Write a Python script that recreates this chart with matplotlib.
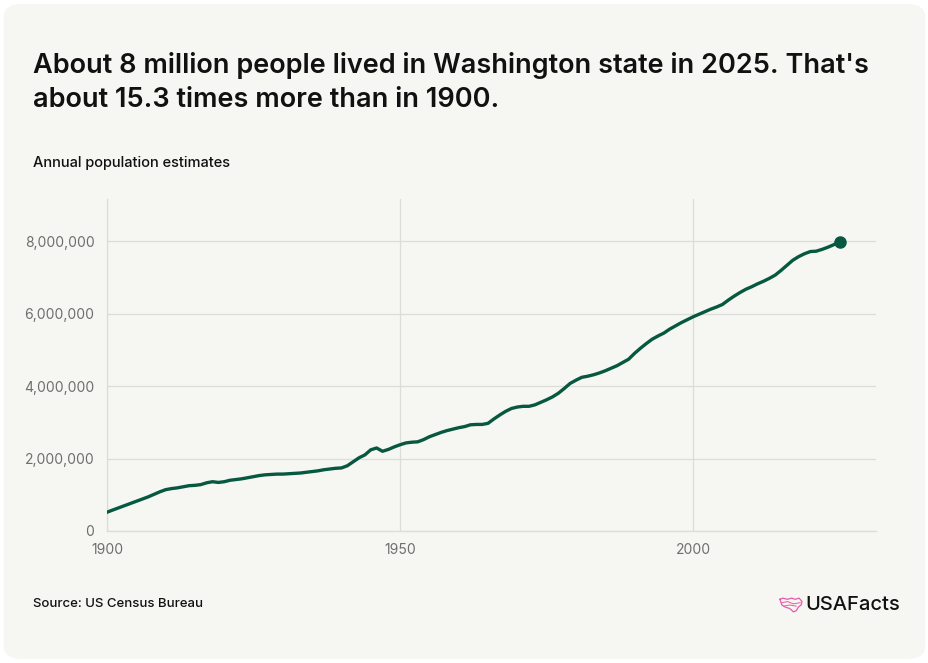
"""
Washington state annual population, 1900-2025 (USAFacts style card).
"""

import numpy as np
import matplotlib
matplotlib.use("Agg")
import matplotlib.pyplot as plt
from matplotlib.patches import FancyBboxPatch
from matplotlib.ticker import FuncFormatter

# ─── Data (millions) ────────────────────────────────────────────────────────

years = list(range(1900, 2026))
population_m = [
    0.518, 0.58, 0.64, 0.70, 0.76, 0.82, 0.88, 0.94, 1.01, 1.08,   # 1900s
    1.14, 1.17, 1.19, 1.22, 1.25, 1.26, 1.28, 1.33, 1.36, 1.34,    # 1910s
    1.36, 1.40, 1.42, 1.44, 1.47, 1.50, 1.53, 1.55, 1.56, 1.57,    # 1920s
    1.57, 1.58, 1.59, 1.60, 1.62, 1.64, 1.66, 1.69, 1.71, 1.73,    # 1930s
    1.74, 1.80, 1.91, 2.02, 2.10, 2.24, 2.29, 2.20, 2.25, 2.32,    # 1940s
    2.38, 2.43, 2.45, 2.46, 2.52, 2.60, 2.66, 2.72, 2.77, 2.81,    # 1950s
    2.85, 2.88, 2.93, 2.94, 2.94, 2.97, 3.09, 3.20, 3.30, 3.38,    # 1960s
    3.42, 3.44, 3.44, 3.48, 3.55, 3.62, 3.70, 3.80, 3.93, 4.07,    # 1970s
    4.16, 4.24, 4.27, 4.31, 4.36, 4.42, 4.49, 4.56, 4.65, 4.74,    # 1980s
    4.90, 5.04, 5.17, 5.29, 5.38, 5.46, 5.57, 5.66, 5.75, 5.83,    # 1990s
    5.91, 5.98, 6.05, 6.12, 6.18, 6.25, 6.37, 6.48, 6.58, 6.67,    # 2000s
    6.74, 6.82, 6.89, 6.97, 7.06, 7.19, 7.33, 7.47, 7.57, 7.65,    # 2010s
    7.71, 7.72, 7.77, 7.83, 7.90, 7.98,                            # 2020s
]
population = np.array(population_m) * 1e6

x_ticks = [1900, 1950, 2000]
y_ticks = [0, 2_000_000, 4_000_000, 6_000_000, 8_000_000]

TITLE = ("About 8 million people lived in Washington state in 2025. That's\n"
         "about 15.3 times more than in 1900.")
SUBTITLE = "Annual population estimates"
SOURCE = "Source: US Census Bureau"

# ─── Style ──────────────────────────────────────────────────────────────────

BG = "#f6f6f2"
LINE = "#075840"
GRID = "#dcdcd8"
TICK = "#6e6e6e"
PINK = "#e85aa6"

plt.rcParams["font.family"] = ["Inter", "DejaVu Sans"]

W, H = 929, 663
fig = plt.figure(figsize=(W / 100, H / 100), dpi=100, facecolor="white")

# rounded card behind everything
card = FancyBboxPatch((0.004, 0.006), 0.992, 0.988,
                      boxstyle="round,pad=0,rounding_size=0.02",
                      transform=fig.transFigure, facecolor=BG,
                      edgecolor="none", zorder=-5)
fig.patches.append(card)

ax = fig.add_axes([107 / W, 1 - 531 / H, (876 - 107) / W, (531 - 199) / H])
ax.set_facecolor(BG)

ax.plot(years, population, color=LINE, linewidth=2.4,
        solid_capstyle="round", solid_joinstyle="round", zorder=3)
ax.plot(years[-1], population[-1], "o", color=LINE, markersize=8, zorder=4)

ax.set_xlim(1900, 2031.2)
ax.set_ylim(0, 9.16e6)
ax.set_xticks(x_ticks)
ax.set_yticks(y_ticks)
ax.yaxis.set_major_formatter(FuncFormatter(lambda v, _: f"{int(v):,}"))

ax.grid(True, color=GRID, linewidth=0.9, zorder=0)
for side in ("top", "right"):
    ax.spines[side].set_visible(False)
for side in ("left", "bottom"):
    ax.spines[side].set_color(GRID)
    ax.spines[side].set_linewidth(0.9)

ax.tick_params(length=0, labelsize=10, labelcolor=TICK)
ax.tick_params(axis="y", pad=9)
ax.tick_params(axis="x", pad=9)

# ─── Text ───────────────────────────────────────────────────────────────────

fig.text(33 / W, 1 - 52 / H, TITLE, fontsize=19.5, fontweight="semibold",
         color="#111111", va="top", ha="left", linespacing=1.38)
fig.text(33 / W, 1 - 163 / H, SUBTITLE, fontsize=10.5, fontweight="medium",
         color="#111111", va="center", ha="left")
fig.text(33 / W, 1 - 604 / H, SOURCE, fontsize=9.5, fontweight="medium",
         color="#111111", va="center", ha="left")

# logo: pink map outline + wordmark
logo = fig.add_axes([779 / W, 1 - 613 / H, 24 / W, 16 / H])
logo.set_axis_off()
mx = [0, 3, 8, 12, 16, 20, 23, 22, 19, 17, 14, 10, 6, 2, 0]
my = [12, 13, 12, 13, 12, 13, 10, 7, 5, 2, 1, 4, 5, 7, 12]
logo.plot(mx, my, color=PINK, linewidth=0.9)
logo.plot([2, 8, 14, 21], [9, 10, 8, 9], color=PINK, linewidth=0.7)
logo.plot([4, 10, 17], [6, 7, 6], color=PINK, linewidth=0.7)
logo.set_xlim(-1, 24)
logo.set_ylim(0, 14)
fig.text(805 / W, 1 - 605 / H, "USAFacts", fontsize=14.5, fontweight="medium",
         color="#111111", va="center", ha="left")

fig.savefig("out.png", dpi=100, facecolor="white")
